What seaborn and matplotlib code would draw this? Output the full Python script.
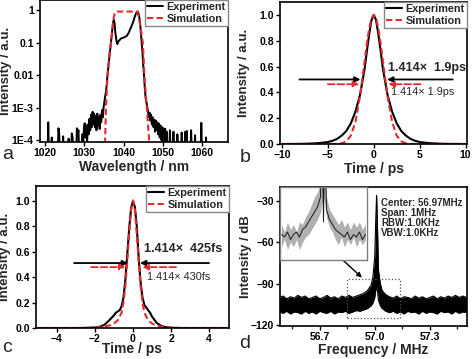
import numpy as np
import pandas as pd
import seaborn as sns
import matplotlib.pyplot as plt
from matplotlib.patches import Rectangle
from matplotlib.ticker import NullLocator

# (a) spectrum, log scale
wl_a = [1019.0, 1020.6, 1020.8, 1021.0, 1021.6, 1021.7, 1021.8, 1023.2, 1023.4, 1023.6,
        1023.8, 1024.5, 1024.6, 1024.7, 1025.8, 1026.0, 1026.2, 1026.6, 1026.8, 1027.0,
        1027.2, 1027.9, 1028.1, 1028.3, 1028.5, 1028.7, 1029.3, 1029.5, 1029.7, 1029.9,
        1030.1, 1030.3, 1030.5, 1030.7, 1030.9, 1031.1, 1031.3, 1031.5, 1031.7, 1031.9,
        1032.1, 1032.3, 1032.5, 1032.7, 1032.9, 1033.1, 1033.3, 1033.5, 1033.7, 1033.9,
        1034.1, 1034.3, 1034.5, 1034.7, 1034.9, 1035.1, 1035.3, 1035.5, 1035.7, 1035.9,
        1036.2, 1036.5, 1036.8, 1037.1, 1037.3, 1037.5, 1037.7, 1037.9, 1038.2, 1038.4,
        1038.7, 1039.0, 1039.4, 1039.9, 1040.4, 1040.8, 1041.3, 1041.7, 1042.1, 1042.5,
        1042.8, 1043.1, 1043.4, 1043.6, 1043.8, 1044.0, 1044.2, 1044.4, 1044.6, 1044.8,
        1045.0, 1045.2, 1045.4, 1045.6, 1045.8, 1046.0, 1046.2, 1046.4, 1046.6, 1046.8,
        1047.0, 1047.2, 1047.4, 1047.6, 1047.8, 1048.0, 1048.2, 1048.4, 1048.6, 1048.8,
        1049.0, 1049.2, 1049.4, 1049.6, 1049.8, 1050.0, 1050.2, 1050.4, 1050.6, 1050.8,
        1051.0, 1051.2, 1051.6, 1051.8, 1052.0, 1052.5, 1052.7, 1052.9, 1053.5, 1053.7,
        1053.9, 1054.6, 1054.8, 1055.0, 1055.5, 1055.7, 1055.9, 1056.1, 1056.3, 1057.0,
        1057.2, 1057.4, 1058.0, 1058.2, 1058.4, 1059.6, 1059.8, 1060.0, 1060.8, 1061.0,
        1061.2, 1066.0]
exp_a = [3e-5, 3e-5, 3.5e-4, 3e-5, 3e-5, 1.2e-4, 3e-5, 3e-5, 2.3e-4, 1.5e-4,
         3e-5, 3e-5, 1.3e-4, 3e-5, 3e-5, 1.1e-4, 3e-5, 3e-5, 1.6e-4, 1.2e-4,
         3e-5, 3e-5, 2.3e-4, 1.4e-4, 2.0e-4, 3e-5, 3e-5, 1.5e-4, 6e-5, 2.5e-4,
         3.3e-4, 1.2e-4, 2.8e-4, 8e-5, 3.0e-4, 1.5e-4, 4.5e-4, 2.0e-4, 6.0e-4, 2.5e-4,
         7.4e-4, 3.0e-4, 6.5e-4, 2.5e-4, 5.5e-4, 2.0e-4, 6.5e-4, 3.0e-4, 5.0e-4, 2.2e-4,
         6.0e-4, 3.5e-4, 8.4e-4, 5.0e-4, 1.0e-3, 1.5e-3, 2.2e-3, 3.0e-3, 5e-3, 0.01,
         0.022, 0.05, 0.11, 0.25, 0.4, 0.5, 0.4, 0.2, 0.11, 0.09,
         0.11, 0.12, 0.135, 0.14, 0.15, 0.16, 0.2, 0.26, 0.34, 0.45,
         0.6, 0.75, 0.88, 0.9, 0.8, 0.6, 0.4, 0.2, 0.1, 0.05,
         0.02, 0.01, 4e-3, 2e-3, 1.5e-3, 1.1e-3, 8e-4, 5e-4, 7e-4, 4e-4,
         6e-4, 3e-4, 5e-4, 2.5e-4, 4.2e-4, 1.8e-4, 4.0e-4, 2e-4, 3.5e-4, 1.5e-4,
         3.2e-4, 1.2e-4, 2.8e-4, 1e-4, 2.5e-4, 8e-5, 2.3e-4, 6e-5, 2.2e-4, 5e-5,
         1.8e-4, 4e-5, 3e-5, 2.0e-4, 3e-5, 3e-5, 1.8e-4, 3e-5, 3e-5, 1.5e-4,
         3e-5, 3e-5, 1.7e-4, 3e-5, 3e-5, 1.8e-4, 1.2e-4, 1.9e-4, 3e-5, 3e-5,
         2.0e-4, 3e-5, 3e-5, 1.4e-4, 3e-5, 3e-5, 3.4e-4, 3e-5, 3e-5, 1.2e-4,
         3e-5, 3e-5]
sim_wl_a = [1035.25, 1035.3, 1035.5, 1035.9, 1036.4, 1036.8, 1037.2, 1037.5, 1037.8,
            1038.1, 1043.5, 1043.9, 1044.3, 1044.9, 1045.3, 1045.9, 1046.5, 1046.55]
sim_a = [1e-5, 1e-4, 1e-3, 0.01, 0.05, 0.1, 0.3, 0.6, 0.85,
         0.9, 0.9, 0.6, 0.3, 0.1, 0.01, 1e-3, 1e-4, 1e-5]

# (b) autocorrelation before compression
t_b = [-10, -8, -7, -6, -5, -4.5, -4, -3.5, -3, -2.5, -2, -1.5, -1, -0.75, -0.5, -0.25, 0,
       0.25, 0.5, 0.75, 1, 1.5, 2, 2.5, 3, 3.5, 4, 4.5, 5, 6, 7, 8, 10]
exp_b = [0, 0.001, 0.003, 0.007, 0.015, 0.025, 0.04, 0.065, 0.10, 0.16, 0.25, 0.38, 0.58, 0.72, 0.85, 0.96, 1.0,
         0.96, 0.85, 0.72, 0.58, 0.38, 0.25, 0.16, 0.10, 0.065, 0.04, 0.025, 0.015, 0.007, 0.003, 0.001, 0]
sim_t_b = [-10, -5, -4, -3.5, -3, -2.5, -2, -1.5, -1, -0.75, -0.5, -0.25, 0,
           0.25, 0.5, 0.75, 1, 1.5, 2, 2.5, 3, 3.5, 4, 5, 10]
sim_b = [0, 0, 0.001, 0.005, 0.02, 0.065, 0.17, 0.37, 0.64, 0.78, 0.895, 0.973, 1.0,
         0.973, 0.895, 0.78, 0.64, 0.37, 0.17, 0.065, 0.02, 0.005, 0.001, 0, 0]

# (c) autocorrelation after compression
t_c = [-5, -3, -2.5, -2, -1.75, -1.5, -1.25, -1.0, -0.9, -0.8, -0.7, -0.6, -0.5, -0.4, -0.3, -0.2, -0.1, 0,
       0.1, 0.2, 0.3, 0.4, 0.5, 0.6, 0.7, 0.8, 0.9, 1.0, 1.25, 1.5, 1.75, 2, 2.5, 3, 5]
exp_c = [0, 0, 0.001, 0.004, 0.01, 0.025, 0.06, 0.10, 0.12, 0.13, 0.14, 0.17, 0.24, 0.38, 0.58, 0.78, 0.94, 1.0,
         0.95, 0.80, 0.55, 0.36, 0.24, 0.18, 0.16, 0.14, 0.12, 0.09, 0.04, 0.015, 0.006, 0.002, 0, 0, 0]
sim_t_c = [-5, -2.5, -2, -1.5, -1.25, -1, -0.8, -0.6, -0.5, -0.4, -0.3, -0.2, -0.1, 0,
           0.1, 0.2, 0.3, 0.4, 0.5, 0.6, 0.8, 1, 1.25, 1.5, 2, 2.5, 5]
sim_c = [0, 0, 0.003, 0.01, 0.02, 0.035, 0.06, 0.12, 0.2, 0.33, 0.52, 0.74, 0.93, 1.0,
         0.93, 0.74, 0.52, 0.33, 0.2, 0.12, 0.06, 0.035, 0.02, 0.01, 0.003, 0, 0]

# (d) RF spectrum
freq_d = [56.48, 56.50, 56.52, 56.54, 56.56, 56.58, 56.60, 56.62, 56.64, 56.66,
          56.68, 56.70, 56.72, 56.74, 56.76, 56.78, 56.80, 56.82, 56.84, 56.86,
          56.88, 56.90, 56.92, 56.94, 56.96, 56.98, 56.99, 57.00, 57.005, 57.01,
          57.015, 57.02, 57.03, 57.04, 57.06, 57.08, 57.10, 57.12, 57.14, 57.16,
          57.18, 57.20, 57.22, 57.24, 57.26, 57.28, 57.30, 57.32, 57.34, 57.36,
          57.38, 57.40, 57.42, 57.44, 57.46, 57.48, 57.50]
upper_d = [-100, -99, -101, -99.5, -100.5, -98.5, -100, -99, -101, -100,
           -99, -101, -100, -98.5, -100.5, -99.5, -101, -99, -100, -98.5,
           -100, -99, -98, -97, -95, -91, -85, -70, -45, -26,
           -50, -80, -90, -95, -98, -99.5, -100.5, -99, -101, -99.5,
           -100, -101, -99, -100.5, -99.5, -101, -100, -99, -101, -99.5,
           -100.5, -99, -100, -98.5, -100, -99, -100]
lower_d = [-110.5, -111.5, -110, -112, -110.5, -111, -112, -110, -111.5, -110.5,
           -112, -110, -111, -111.5, -110, -112, -110.5, -111, -110, -111.5,
           -110.5, -109.5, -110, -109, -108, -106, -104, -100, -95, -92,
           -96, -102, -106, -108, -110, -111, -110, -111.5, -110.5, -112,
           -110, -111, -110.5, -112, -110, -111.5, -110.5, -111, -112, -110,
           -111, -110.5, -112, -110, -111.5, -110.5, -111]
# inset (zoom of dotted box)
freq_in = [56.87, 56.88, 56.89, 56.90, 56.91, 56.92, 56.93, 56.94, 56.95, 56.96, 56.97, 56.98, 56.99, 57.00,
           57.005, 57.01, 57.015,
           57.02, 57.03, 57.04, 57.05, 57.06, 57.07, 57.08, 57.09, 57.10, 57.11, 57.12, 57.13, 57.14, 57.15]
upper_in = [-101, -104, -100, -103, -101, -104, -100, -101, -98, -96, -93, -90, -88, -84,
            -80, -80, -80,
            -90, -95, -97, -99, -101, -99, -102, -100, -103, -100, -102, -100, -103, -101]
lower_in = [-110, -107, -111, -108, -110, -107, -111, -108, -106, -105, -103, -101, -99, -96,
            -92, -90, -93,
            -98, -102, -104, -107, -109, -106, -110, -107, -109, -106, -110, -107, -109, -107]
mid_in = [-105, -106, -104, -107, -105, -104, -106, -103, -102, -100, -98, -96, -94, -90,
          -60, -100, -60,
          -95, -99, -101, -103, -104, -105, -106, -104, -107, -105, -106, -104, -107, -105]
rf_notes = ["Center: 56.97MHz", "Span: 1MHz", "RBW:1.0KHz", "VBW:1.0KHz"]

sns.set_style("ticks")
plt.rcParams['font.family'] = ['Liberation Sans', 'DejaVu Sans']
plt.rcParams['font.weight'] = 'bold'
plt.rcParams['axes.labelweight'] = 'bold'
plt.rcParams['axes.edgecolor'] = 'black'

RED = '#e8282c'
DASH = (0, (3, 1.6))


def style(ax):
    for s in ax.spines.values():
        s.set_linewidth(1.2)
        s.set_color('k')
    ax.tick_params(length=3, width=1, labelsize=7.5, pad=1.5, colors='k')


def legend(ax):
    leg = ax.legend(loc='upper right', bbox_to_anchor=(1, 1), borderaxespad=0, fontsize=7.8,
                    handlelength=1.5, handletextpad=0.3, labelspacing=0.15, borderpad=0.2,
                    fancybox=False, edgecolor='#888888', framealpha=1)
    leg.get_frame().set_linewidth(1)


def arrow(ax, start, tip, color, ls='-'):
    ax.annotate('', xy=tip, xytext=start,
                arrowprops=dict(arrowstyle='-|>', color=color, lw=1.3, ls=ls,
                                mutation_scale=8, shrinkA=0, shrinkB=0))


fig = plt.figure(figsize=(4.74, 3.59), dpi=100)

# ---- a
ax = fig.add_axes([40/474, 1-142/359, 188/474, 142/359])
sns.lineplot(x=wl_a, y=exp_a, ax=ax, color='k', lw=1.4, label='Experiment', estimator=None, sort=False)
sns.lineplot(x=sim_wl_a, y=sim_a, ax=ax, color=RED, lw=1.5, ls=DASH, label='Simulation', estimator=None, sort=False)
ax.set_yscale('log')
ax.set_xlim(1018.7, 1066.6)
ax.set_ylim(8.7e-5, 2.04)
ax.set_xticks([1020, 1030, 1040, 1050, 1060])
ax.set_yticks([1e-4, 1e-3, 1e-2, 1e-1, 1])
ax.set_yticklabels(['1E-4', '1E-3', '0.01', '0.1', '1'])
ax.yaxis.set_minor_locator(NullLocator())
style(ax)
legend(ax)
ax.set_xlabel('Wavelength / nm', fontsize=10)
ax.set_ylabel('Intensity / a.u.', fontsize=9.5)
ax.xaxis.set_label_coords(0.5, -0.13)
ax.yaxis.set_label_coords(-0.15, 0.5)

# ---- b
ax = fig.add_axes([280/474, 1-144/359, 187/474, 142/359])
sns.lineplot(x=t_b, y=exp_b, ax=ax, color='k', lw=1.5, label='Experiment')
sns.lineplot(x=sim_t_b, y=sim_b, ax=ax, color=RED, lw=1.5, ls=DASH, label='Simulation')
ax.set_xlim(-10.22, 10.16)
ax.set_ylim(0, 1.1)
ax.set_xticks([-10, -5, 0, 5, 10])
ax.set_yticks([0, 0.2, 0.4, 0.6, 0.8, 1.0])
ax.set_yticklabels(['0.0', '0.2', '0.4', '0.6', '0.8', '1.0'])
style(ax)
legend(ax)
arrow(ax, (-8.1, 0.5), (-1.45, 0.5), 'k')
arrow(ax, (8.6, 0.5), (1.45, 0.5), 'k')
arrow(ax, (-5.0, 0.463), (-1.6, 0.463), RED, '--')
arrow(ax, (5.1, 0.463), (1.6, 0.463), RED, '--')
ax.text(1.5, 0.59, '1.414×  1.9ps', fontsize=9, va='center')
ax.text(1.9, 0.40, '1.414× 1.9ps', fontsize=7.8, weight='normal', va='center')
ax.set_xlabel('Time / ps', fontsize=10)
ax.set_ylabel('Intensity / a.u.', fontsize=9.5)
ax.xaxis.set_label_coords(0.5, -0.13)
ax.yaxis.set_label_coords(-0.16, 0.5)

# ---- c
ax = fig.add_axes([36/474, 1-328/359, 193/474, 142/359])
sns.lineplot(x=t_c, y=exp_c, ax=ax, color='k', lw=1.5, label='Experiment')
sns.lineplot(x=sim_t_c, y=sim_c, ax=ax, color=RED, lw=1.5, ls=DASH, label='Simulation')
ax.set_xlim(-5.1, 5.05)
ax.set_ylim(0, 1.115)
ax.set_xticks([-4, -2, 0, 2, 4])
ax.set_yticks([0, 0.2, 0.4, 0.6, 0.8, 1.0])
ax.set_yticklabels(['0.0', '0.2', '0.4', '0.6', '0.8', '1.0'])
style(ax)
ax.tick_params(axis='x', pad=1)
legend(ax)
arrow(ax, (-3.1, 0.51), (-0.26, 0.51), 'k')
arrow(ax, (4.0, 0.51), (0.37, 0.51), 'k')
arrow(ax, (-2.2, 0.478), (-0.4, 0.478), RED, '--')
arrow(ax, (2.26, 0.478), (0.5, 0.478), RED, '--')
ax.text(0.58, 0.62, '1.414×  425fs', fontsize=9, va='center')
ax.text(0.72, 0.40, '1.414× 430fs', fontsize=7.8, weight='normal', va='center')
ax.set_xlabel('Time / ps', fontsize=10)
ax.set_ylabel('Intensity / a.u.', fontsize=9.5)
ax.xaxis.set_label_coords(0.5, -0.1)
ax.yaxis.set_label_coords(-0.13, 0.5)

# ---- d
ax = fig.add_axes([280/474, 1-326/359, 187/474, 139/359])
ax.fill_between(freq_d, lower_d, upper_d, color='k', lw=0)
sns.lineplot(x=freq_d, y=upper_d, ax=ax, color='k', lw=0.8)
sns.lineplot(x=freq_d, y=lower_d, ax=ax, color='k', lw=0.8)
ax.set_xlim(56.483, 57.503)
ax.set_ylim(-120.7, -20)
ax.set_xticks([56.7, 57.0, 57.3])
ax.set_xticks([56.55, 56.85, 57.15, 57.45], minor=True)
ax.set_yticks([-120, -90, -60, -30])
style(ax)
ax.tick_params(which='minor', length=2, width=1)
ax.add_patch(Rectangle((56.85, -114.8), 0.29, 28.4, fill=False, ls=':', lw=0.9, ec='#555555'))
ax.annotate('', xy=(56.93, -85.6), xytext=(56.822, -72.5),
            arrowprops=dict(arrowstyle='-|>', color='k', lw=1, mutation_scale=7, shrinkA=0, shrinkB=0))
for i, note in enumerate(rf_notes):
    ax.text(0.54, 0.886 - i*0.073, note, transform=ax.transAxes, fontsize=7, va='center')
ax.set_xlabel('Frequency / MHz', fontsize=10)
ax.set_ylabel('Intensity / dB', fontsize=9.5)
ax.xaxis.set_label_coords(0.5, -0.12)
ax.yaxis.set_label_coords(-0.15, 0.5)

ins = ax.inset_axes([0, 0.478, 0.465, 0.522])
ins.fill_between(freq_in, lower_in, upper_in, color='#b0b0b0', lw=0)
sns.lineplot(x=freq_in, y=mid_in, ax=ins, color='#1a1a1a', lw=0.7)
ins.set_xlim(56.865, 57.155)
ins.set_ylim(-115, -86)
ins.set_xticks([])
ins.set_yticks([])
ins.set_xlabel('')
ins.set_ylabel('')
for s in ins.spines.values():
    s.set_color('#808080')
    s.set_linewidth(1)

# panel letters
for letter, x, y in [('a', 8, 155), ('b', 245, 157), ('c', 7, 347), ('d', 245, 344)]:
    fig.text(x/474, 1-y/359, letter, fontsize=14, weight='normal', ha='center', va='center')

fig.savefig('out.png', dpi=100)
